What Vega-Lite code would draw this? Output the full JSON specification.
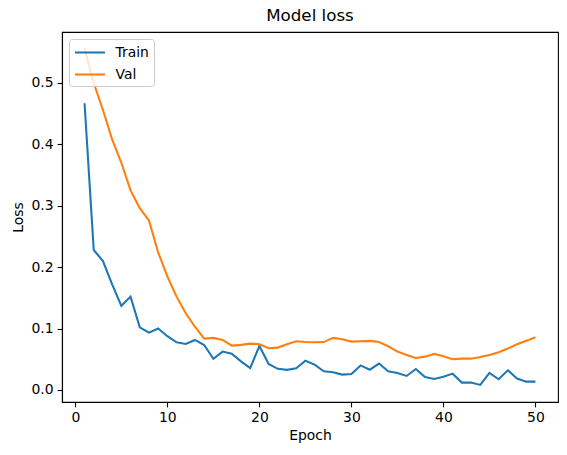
{
  "$schema": "https://vega.github.io/schema/vega-lite/v6.json",
  "autosize": {"type": "none"},
  "padding": {"left": 62, "top": 32, "right": 9, "bottom": 53},
  "width": 496,
  "height": 370,
  "background": "white",
  "title": {
    "text": "Model loss",
    "font": "DejaVu Sans",
    "fontSize": 16.7,
    "fontWeight": "normal",
    "color": "black",
    "anchor": "middle",
    "offset": 7
  },
  "config": {
    "view": {"stroke": "black", "strokeWidth": 1.1},
    "axis": {
      "grid": false,
      "domainColor": "black",
      "domainWidth": 1.1,
      "tickColor": "black",
      "tickWidth": 1.1,
      "tickSize": 4.9,
      "labelFont": "DejaVu Sans",
      "labelFontSize": 13.9,
      "labelColor": "black",
      "labelPadding": 4,
      "titleFont": "DejaVu Sans",
      "titleFontSize": 13.9,
      "titleFontWeight": "normal",
      "titleColor": "black"
    },
    "legend": {
      "orient": "top-left",
      "offset": 7,
      "padding": 4.5,
      "fillColor": "rgba(255,255,255,0.8)",
      "strokeColor": "#cccccc",
      "cornerRadius": 3,
      "labelFont": "DejaVu Sans",
      "labelFontSize": 13.9,
      "labelColor": "black",
      "labelOffset": 24,
      "symbolType": "M-1,0H3",
      "symbolSize": 225,
      "symbolStrokeWidth": 2.08,
      "rowPadding": 6
    }
  },
  "data": {
    "values": [
      {"epoch": 1, "series": "Train", "loss": 0.467},
      {"epoch": 2, "series": "Train", "loss": 0.228},
      {"epoch": 3, "series": "Train", "loss": 0.210},
      {"epoch": 4, "series": "Train", "loss": 0.172},
      {"epoch": 5, "series": "Train", "loss": 0.137},
      {"epoch": 6, "series": "Train", "loss": 0.152},
      {"epoch": 7, "series": "Train", "loss": 0.102},
      {"epoch": 8, "series": "Train", "loss": 0.0934},
      {"epoch": 9, "series": "Train", "loss": 0.100},
      {"epoch": 10, "series": "Train", "loss": 0.0875},
      {"epoch": 11, "series": "Train", "loss": 0.0775},
      {"epoch": 12, "series": "Train", "loss": 0.075},
      {"epoch": 13, "series": "Train", "loss": 0.0815},
      {"epoch": 14, "series": "Train", "loss": 0.0732},
      {"epoch": 15, "series": "Train", "loss": 0.0508},
      {"epoch": 16, "series": "Train", "loss": 0.0625},
      {"epoch": 17, "series": "Train", "loss": 0.0590},
      {"epoch": 18, "series": "Train", "loss": 0.0465},
      {"epoch": 19, "series": "Train", "loss": 0.0356},
      {"epoch": 20, "series": "Train", "loss": 0.0717},
      {"epoch": 21, "series": "Train", "loss": 0.0424},
      {"epoch": 22, "series": "Train", "loss": 0.0344},
      {"epoch": 23, "series": "Train", "loss": 0.0328},
      {"epoch": 24, "series": "Train", "loss": 0.0353},
      {"epoch": 25, "series": "Train", "loss": 0.0475},
      {"epoch": 26, "series": "Train", "loss": 0.0413},
      {"epoch": 27, "series": "Train", "loss": 0.0304},
      {"epoch": 28, "series": "Train", "loss": 0.0288},
      {"epoch": 29, "series": "Train", "loss": 0.025},
      {"epoch": 30, "series": "Train", "loss": 0.026},
      {"epoch": 31, "series": "Train", "loss": 0.040},
      {"epoch": 32, "series": "Train", "loss": 0.033},
      {"epoch": 33, "series": "Train", "loss": 0.043},
      {"epoch": 34, "series": "Train", "loss": 0.0304},
      {"epoch": 35, "series": "Train", "loss": 0.0277},
      {"epoch": 36, "series": "Train", "loss": 0.0228},
      {"epoch": 37, "series": "Train", "loss": 0.0342},
      {"epoch": 38, "series": "Train", "loss": 0.0212},
      {"epoch": 39, "series": "Train", "loss": 0.0179},
      {"epoch": 40, "series": "Train", "loss": 0.0217},
      {"epoch": 41, "series": "Train", "loss": 0.0266},
      {"epoch": 42, "series": "Train", "loss": 0.012},
      {"epoch": 43, "series": "Train", "loss": 0.012},
      {"epoch": 44, "series": "Train", "loss": 0.0082},
      {"epoch": 45, "series": "Train", "loss": 0.0277},
      {"epoch": 46, "series": "Train", "loss": 0.0174},
      {"epoch": 47, "series": "Train", "loss": 0.032},
      {"epoch": 48, "series": "Train", "loss": 0.0185},
      {"epoch": 49, "series": "Train", "loss": 0.0136},
      {"epoch": 50, "series": "Train", "loss": 0.0136},
      {"epoch": 1, "series": "Val", "loss": 0.557},
      {"epoch": 2, "series": "Val", "loss": 0.500},
      {"epoch": 3, "series": "Val", "loss": 0.456},
      {"epoch": 4, "series": "Val", "loss": 0.408},
      {"epoch": 5, "series": "Val", "loss": 0.370},
      {"epoch": 6, "series": "Val", "loss": 0.325},
      {"epoch": 7, "series": "Val", "loss": 0.296},
      {"epoch": 8, "series": "Val", "loss": 0.276},
      {"epoch": 9, "series": "Val", "loss": 0.224},
      {"epoch": 10, "series": "Val", "loss": 0.185},
      {"epoch": 11, "series": "Val", "loss": 0.152},
      {"epoch": 12, "series": "Val", "loss": 0.125},
      {"epoch": 13, "series": "Val", "loss": 0.103},
      {"epoch": 14, "series": "Val", "loss": 0.0837},
      {"epoch": 15, "series": "Val", "loss": 0.0848},
      {"epoch": 16, "series": "Val", "loss": 0.0815},
      {"epoch": 17, "series": "Val", "loss": 0.0722},
      {"epoch": 18, "series": "Val", "loss": 0.0734},
      {"epoch": 19, "series": "Val", "loss": 0.0755},
      {"epoch": 20, "series": "Val", "loss": 0.0745},
      {"epoch": 21, "series": "Val", "loss": 0.068},
      {"epoch": 22, "series": "Val", "loss": 0.069},
      {"epoch": 23, "series": "Val", "loss": 0.0745},
      {"epoch": 24, "series": "Val", "loss": 0.0793},
      {"epoch": 25, "series": "Val", "loss": 0.078},
      {"epoch": 26, "series": "Val", "loss": 0.0777},
      {"epoch": 27, "series": "Val", "loss": 0.078},
      {"epoch": 28, "series": "Val", "loss": 0.0848},
      {"epoch": 29, "series": "Val", "loss": 0.0826},
      {"epoch": 30, "series": "Val", "loss": 0.0788},
      {"epoch": 31, "series": "Val", "loss": 0.0793},
      {"epoch": 32, "series": "Val", "loss": 0.0799},
      {"epoch": 33, "series": "Val", "loss": 0.078},
      {"epoch": 34, "series": "Val", "loss": 0.0712},
      {"epoch": 35, "series": "Val", "loss": 0.0625},
      {"epoch": 36, "series": "Val", "loss": 0.057},
      {"epoch": 37, "series": "Val", "loss": 0.0522},
      {"epoch": 38, "series": "Val", "loss": 0.0543},
      {"epoch": 39, "series": "Val", "loss": 0.0587},
      {"epoch": 40, "series": "Val", "loss": 0.055},
      {"epoch": 41, "series": "Val", "loss": 0.050},
      {"epoch": 42, "series": "Val", "loss": 0.051},
      {"epoch": 43, "series": "Val", "loss": 0.051},
      {"epoch": 44, "series": "Val", "loss": 0.0538},
      {"epoch": 45, "series": "Val", "loss": 0.057},
      {"epoch": 46, "series": "Val", "loss": 0.0614},
      {"epoch": 47, "series": "Val", "loss": 0.0674},
      {"epoch": 48, "series": "Val", "loss": 0.0745},
      {"epoch": 49, "series": "Val", "loss": 0.080},
      {"epoch": 50, "series": "Val", "loss": 0.0859}
    ]
  },
  "mark": {"type": "line", "strokeWidth": 2.08, "clip": true},
  "encoding": {
    "x": {
      "field": "epoch",
      "type": "quantitative",
      "title": "Epoch",
      "scale": {"domain": [-1.45, 52.45], "nice": false, "zero": false},
      "axis": {"values": [0, 10, 20, 30, 40, 50], "format": "d", "titlePadding": 4}
    },
    "y": {
      "field": "loss",
      "type": "quantitative",
      "title": "Loss",
      "scale": {"domain": [-0.0196, 0.583], "nice": false, "zero": false},
      "axis": {"values": [0, 0.1, 0.2, 0.3, 0.4, 0.5], "format": ".1f", "titlePadding": 6}
    },
    "color": {
      "field": "series",
      "type": "nominal",
      "scale": {"domain": ["Train", "Val"], "range": ["#1f77b4", "#ff7f0e"]},
      "legend": {"title": null}
    }
  }
}
